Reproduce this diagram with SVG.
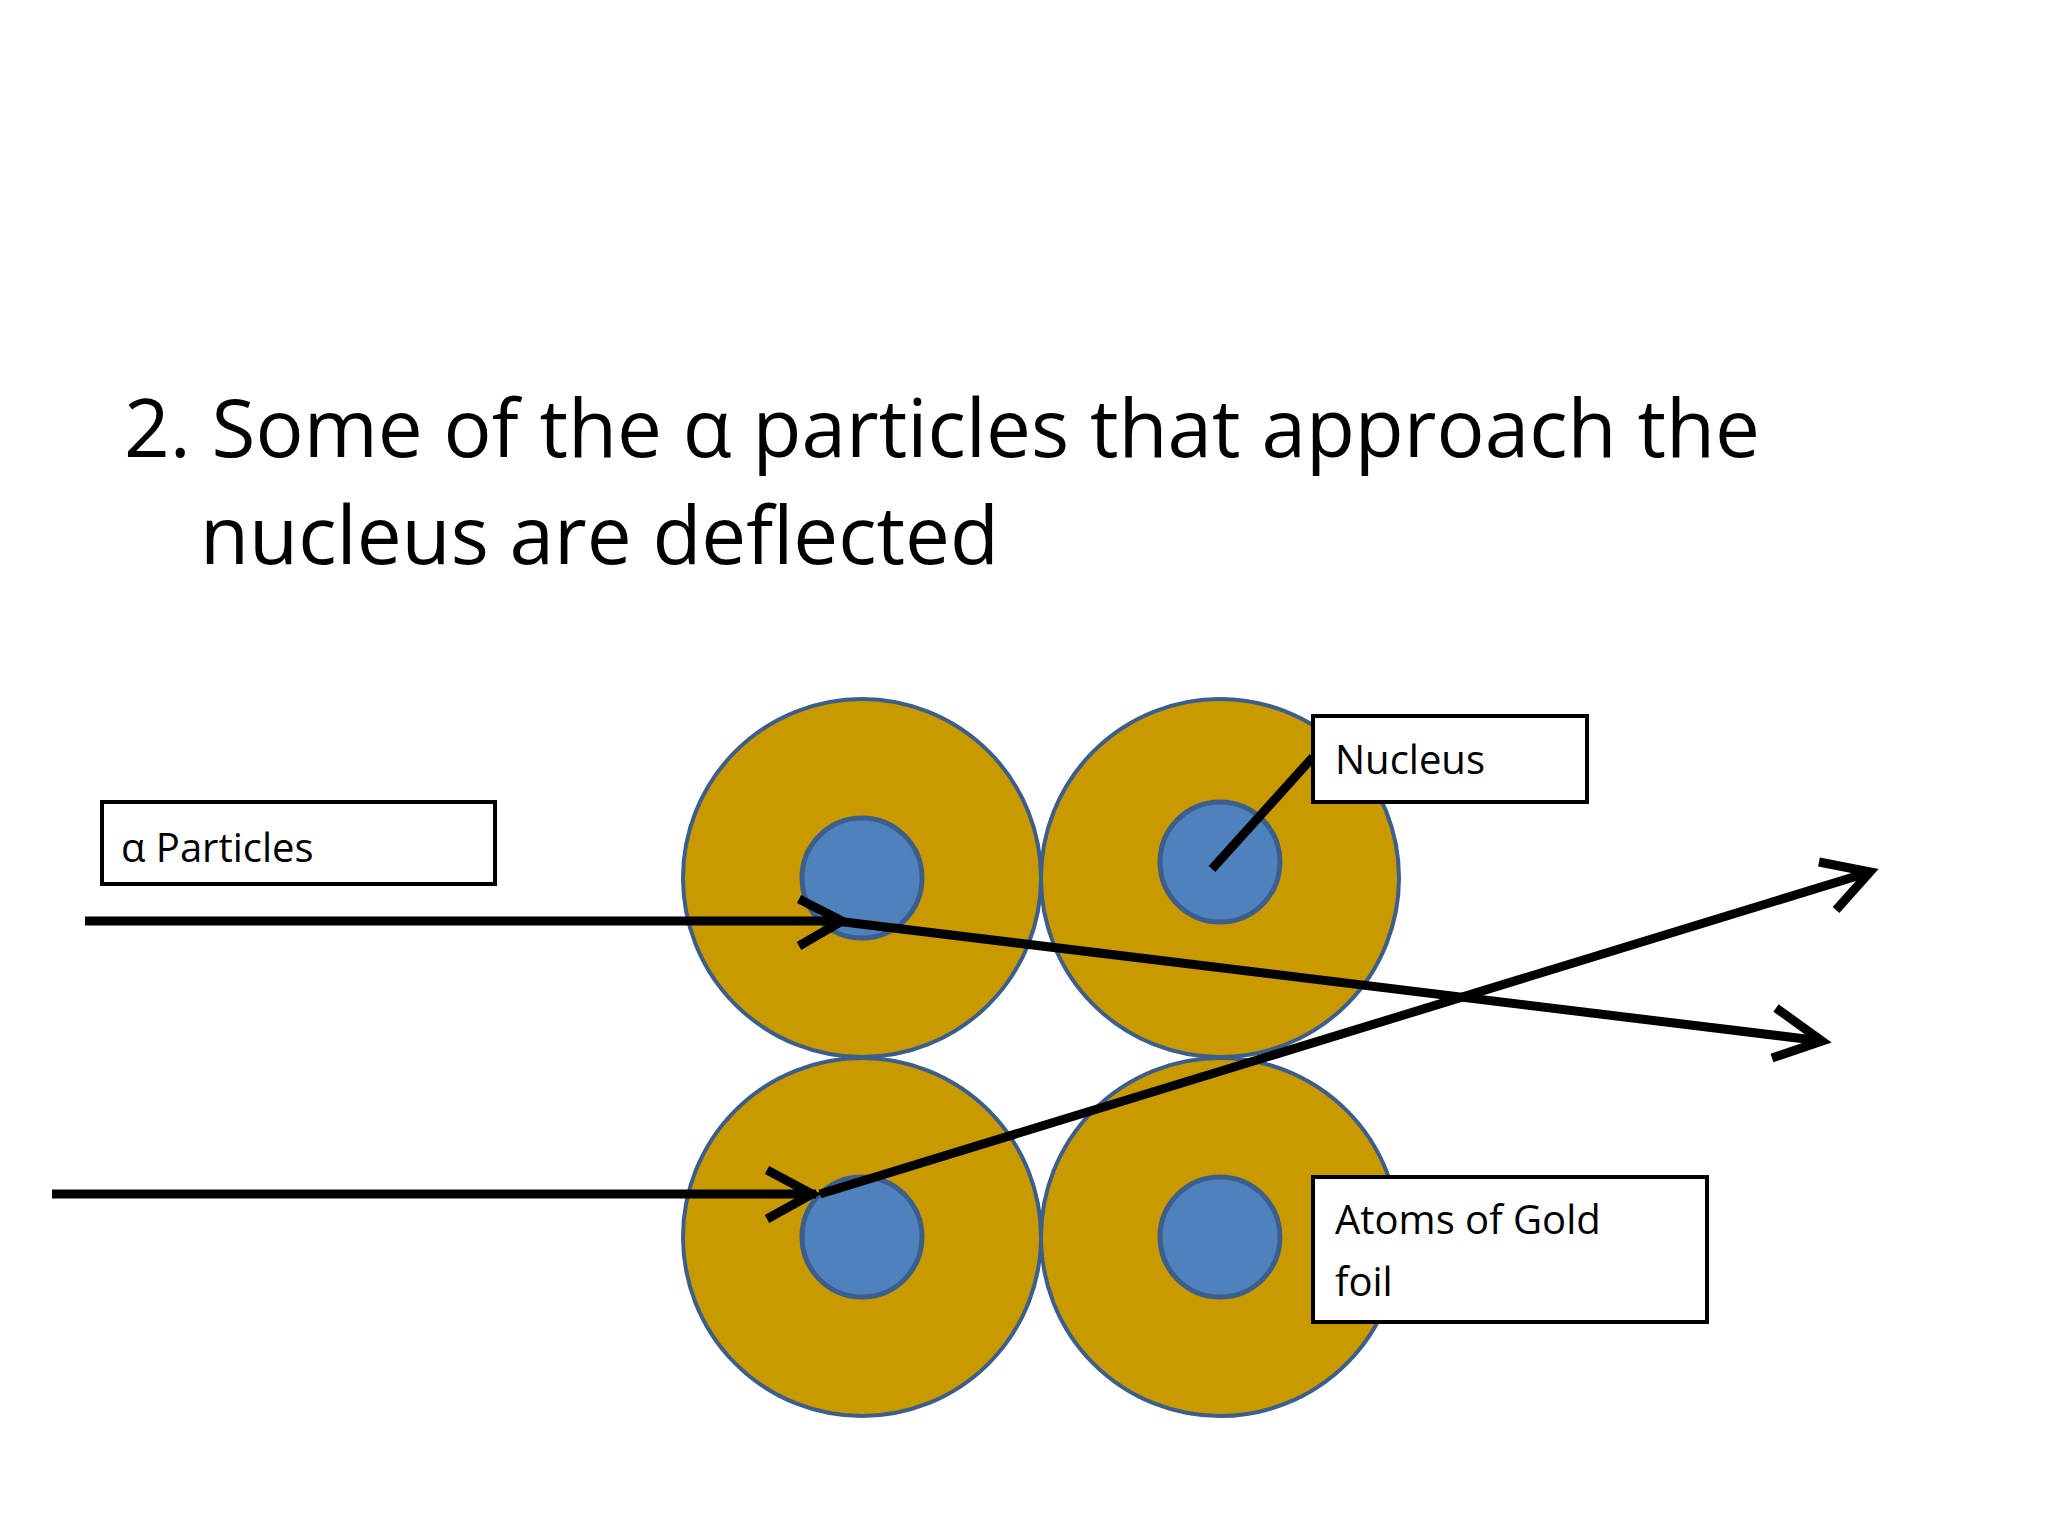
<svg xmlns="http://www.w3.org/2000/svg" width="2048" height="1536" viewBox="0 0 2048 1536">
<style>
.atom{fill:#C99A00;stroke:#3B5E8C;stroke-width:4}
.nuc{fill:#4F81BD;stroke:#3B5E8C;stroke-width:5}
.box{fill:#fff;stroke:#000;stroke-width:4}
.lbl{font-family:"Open Sans","Liberation Sans",sans-serif;font-size:40px;fill:#000}
.title{font-family:"Open Sans","Liberation Sans",sans-serif;font-size:80px;fill:#000}
.ar{fill:none;stroke:#000;stroke-width:9}
</style>
<rect width="2048" height="1536" fill="#fff"/>
<text class="title" x="124" y="457" textLength="1636">2. Some of the α particles that approach the</text>
<text class="title" x="200" y="564">nucleus are deflected</text>
<g id="atom1"><circle class="atom" cx="862" cy="878" r="179"/><circle class="nuc" cx="862" cy="878" r="60"/></g>
<g id="atom2"><circle class="atom" cx="1220" cy="878" r="179"/><circle class="nuc" cx="1220" cy="862" r="60"/></g>
<g id="atom3"><circle class="atom" cx="862" cy="1237" r="179"/><circle class="nuc" cx="862" cy="1237" r="60"/></g>
<g id="atom4"><circle class="atom" cx="1220" cy="1237" r="179"/><circle class="nuc" cx="1220" cy="1237" r="60"/></g>
<g id="connectors">
<line class="ar" x1="1313" y1="757" x2="1212" y2="869"/>
<polyline class="ar" points="85,921 836,921 1822,1041"/>
<polyline class="ar" points="799,899 842,921 799,946"/>
<polyline class="ar" points="1776,1008 1822,1041 1772,1058"/>
<polyline class="ar" points="52,1194 816,1194"/>
<line class="ar" x1="820" y1="1194" x2="1870" y2="872"/>
<polyline class="ar" points="767,1170 812,1194 767,1219"/>
<polyline class="ar" points="1819,862 1870,872 1836,910"/>
</g>
<g id="alpha-label"><rect class="box" x="102" y="802" width="393" height="82"/><text class="lbl" x="121" y="862">α Particles</text></g>
<g id="nucleus-label"><rect class="box" x="1313" y="716" width="274" height="86"/><text class="lbl" x="1335" y="774">Nucleus</text></g>
<g id="gold-label"><rect class="box" x="1313" y="1177" width="394" height="145"/><text class="lbl" x="1335" y="1234">Atoms of Gold</text><text class="lbl" x="1335" y="1296">foil</text></g>
</svg>
